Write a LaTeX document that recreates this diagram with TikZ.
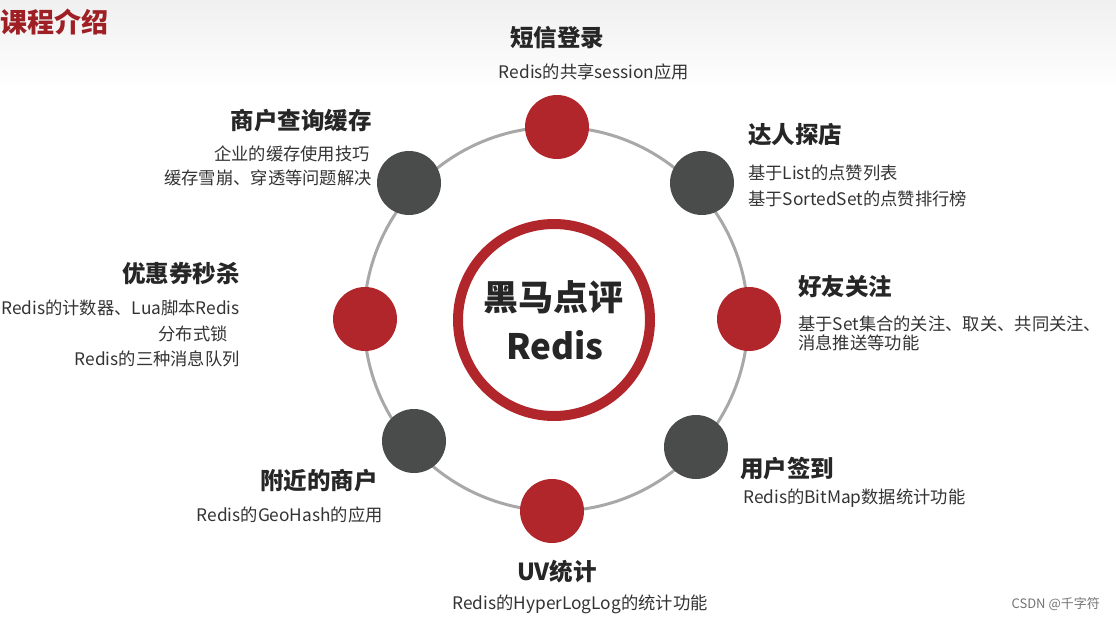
\documentclass[tikz,border=0pt]{standalone}
\usepackage{fontspec}
\setmainfont{Noto Sans CJK SC}
\definecolor{rred}{HTML}{B1262B}
\definecolor{dgray}{HTML}{4A4B4B}
\definecolor{lgray}{HTML}{A8A8A8}
\definecolor{ttl}{HTML}{9E1F24}
\begin{document}
\begin{tikzpicture}[x=1pt,y=-1pt,
  redball/.style={circle,fill=rred,minimum size=64pt,inner sep=0pt},
  grayball/.style={circle,fill=dgray,minimum size=64pt,inner sep=0pt},
  head/.style={font=\bfseries\fontsize{23.5}{28}\selectfont,text=black!85,inner sep=0pt},
  sub/.style={font=\fontsize{17.3}{20}\selectfont,text=black!80,inner sep=0pt}]
\useasboundingbox (0,0) rectangle (1116,621);
\fill[top color=black!6,bottom color=white] (0,0) rectangle (1116,90);
\node[anchor=west,font=\bfseries\fontsize{27}{32}\selectfont,text=ttl,inner sep=0pt] (title) at (0,22) {课程介绍};
\coordinate (c) at (556,319);
\draw[lgray,line width=3pt] (c) circle[radius=192];
\draw[rred,line width=10pt,fill=white] (554,320) circle[radius=96];
\node[font=\bfseries\fontsize{35}{40}\selectfont,text=black!85,inner sep=0pt] (t1) at (553,297) {黑马点评};
\node[font=\bfseries\fontsize{35}{40}\selectfont,text=black!85,inner sep=0pt] (t2) at (555,345) {Redis};
\node[redball] (n1) at (557,127) {};
\node[grayball] (n2) at (702,183) {};
\node[redball] (n3) at (749,319) {};
\node[grayball] (n4) at (696,447) {};
\node[redball] (n5) at (552,511) {};
\node[grayball] (n6) at (414,441) {};
\node[redball] (n7) at (365,319) {};
\node[grayball] (n8) at (409,183) {};
% top
\node[head] (h1) at (557,38) {短信登录};
\node[sub] (s1) at (594,72) {Redis的共享session应用};
% upper right
\node[head,anchor=west] (h2) at (748,135) {达人探店};
\node[sub,anchor=west] (s2a) at (748,173) {基于List的点赞列表};
\node[sub,anchor=west] (s2b) at (748,199) {基于SortedSet的点赞排行榜};
% right
\node[head,anchor=west] (h3) at (798,287) {好友关注};
\node[sub,anchor=west] (s3a) at (798,324) {基于Set集合的关注、取关、共同关注、};
\node[sub,anchor=west] (s3b) at (798,343) {消息推送等功能};
% lower right
\node[head,anchor=west] (h4) at (740,469) {用户签到};
\node[sub,anchor=west] (s4) at (743,498) {Redis的BitMap数据统计功能};
% bottom
\node[head] (h5) at (557,572) {UV统计};
\node[sub] (s5) at (580,604) {Redis的HyperLogLog的统计功能};
% lower left
\node[head,anchor=east] (h6) at (378,481) {附近的商户};
\node[sub,anchor=east] (s6) at (383,515) {Redis的GeoHash的应用};
% left
\node[head,anchor=east] (h7) at (240,274) {优惠券秒杀};
\node[sub,anchor=east] (s7a) at (240,308) {Redis的计数器、Lua脚本Redis};
\node[sub] (s7b) at (193,334) {分布式锁};
\node[sub,anchor=east] (s7c) at (240,359) {Redis的三种消息队列};
% upper left
\node[head,anchor=east] (h8) at (372,121) {商户查询缓存};
\node[sub,anchor=east] (s8a) at (370,154) {企业的缓存使用技巧};
\node[sub,anchor=east] (s8b) at (372,178) {缓存雪崩、穿透等问题解决};
\node[anchor=east,font=\fontsize{13}{15}\selectfont,text=black!55,inner sep=0pt] (csdn) at (1100,604) {CSDN @千字符};
\end{tikzpicture}
\end{document}
